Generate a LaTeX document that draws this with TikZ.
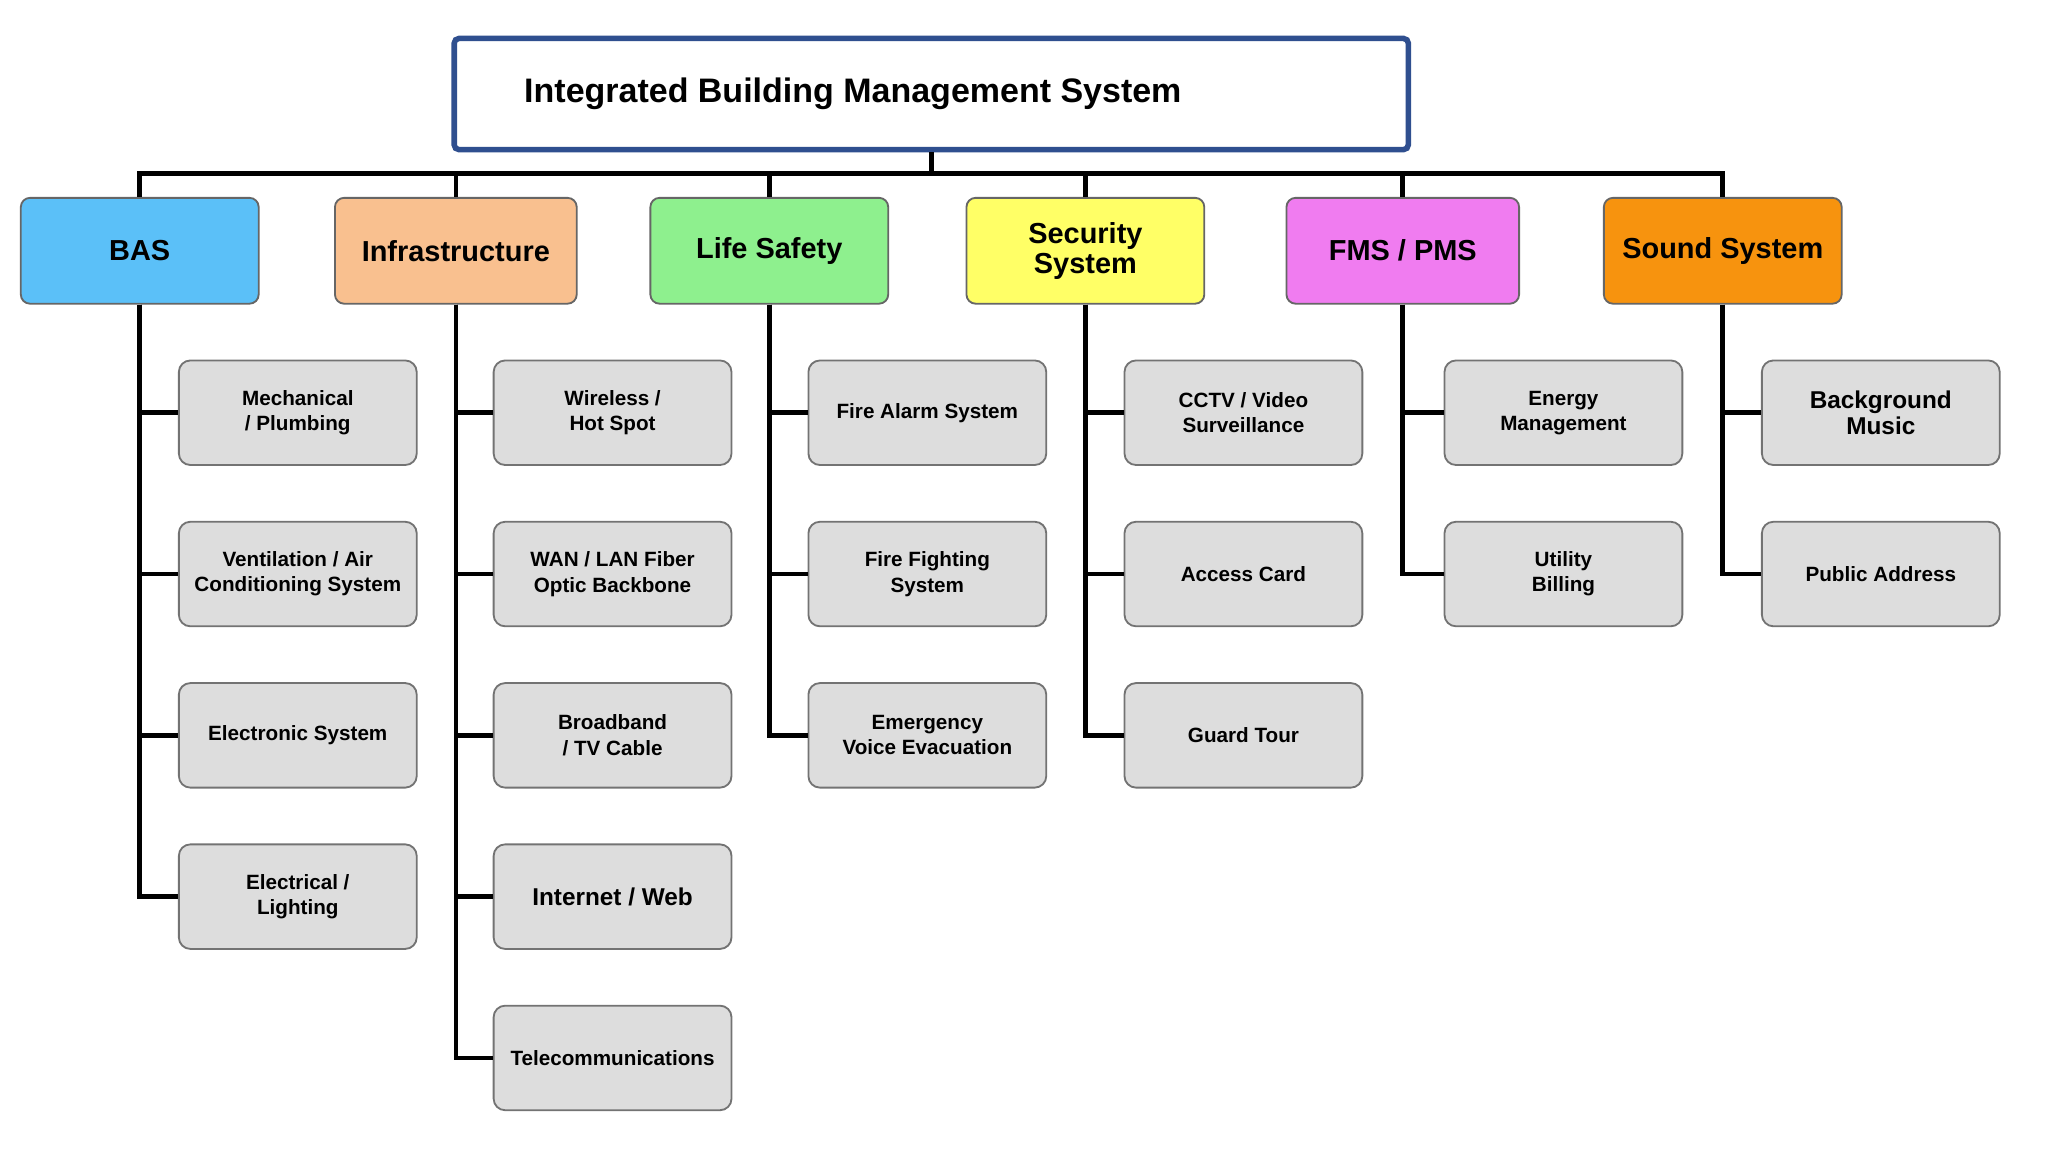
\documentclass[tikz,border=0pt]{standalone}
\usepackage{fontspec}
\setmainfont{Liberation Sans}
\usetikzlibrary{positioning}
\definecolor{basblue}{HTML}{5BC0F8}
\definecolor{infpeach}{HTML}{F9C08F}
\definecolor{lifegreen}{HTML}{8EF08E}
\definecolor{secyellow}{HTML}{FFFF66}
\definecolor{fmspink}{HTML}{F07CF0}
\definecolor{soundorange}{HTML}{F7930E}
\definecolor{subgray}{HTML}{DDDDDD}
\definecolor{titleblue}{HTML}{2F4F8F}
\newcommand{\bigtxt}[1]{{\fontsize{5.3}{6}\selectfont #1}}
\tikzstyle{title} = [rectangle, rounded corners=1pt, minimum width=7.3cm, minimum height=0.85cm, draw=titleblue, line width=1.2pt, fill=white, font=\bfseries\fontsize{7.4}{9}\selectfont]
\tikzstyle{category} = [rectangle, rounded corners=2pt, minimum width=1.82cm, minimum height=0.81cm, align=center, draw=black!60, font=\bfseries\fontsize{6.3}{6.6}\selectfont]
\tikzstyle{sub} = [rectangle, rounded corners=2.5pt, minimum width=1.82cm, minimum height=0.8cm, align=center, draw=black!55, fill=subgray, font=\bfseries\fontsize{4.5}{5.5}\selectfont]
\tikzstyle{line} = [line width=1pt]

\begin{document}
\begin{tikzpicture}[x=0.01cm, y=-0.01cm]
    \useasboundingbox (0,0) rectangle (1568,882);

    \node (ibms) [title] at (713,72) {\hspace*{-1.2cm}Integrated Building Management System};

    \node (bas) [category, fill=basblue] at (107,192) {BAS};
    \node (infra) [category, fill=infpeach, minimum width=1.85cm] at (349,192) {Infrastructure};
    \node (life) [category, fill=lifegreen] at (589,192) {Life Safety};
    \node (security) [category, fill=secyellow] at (831,192) {Security\\System};
    \node (fms) [category, fill=fmspink, minimum width=1.78cm] at (1074,192) {FMS / PMS};
    \node (sound) [category, fill=soundorange] at (1319,192) {Sound System};

    % bus
    \coordinate (busmid) at (713,133);
    \draw [line] (ibms.south) -- (busmid);
    \foreach \c in {bas,infra,life,security,fms,sound}
        \draw [line] (busmid) -| (\c.north);

    % children
    \foreach \parent/\x/\items in {
        bas/228/{Mechanical\\/ Plumbing,Ventilation / Air\\Conditioning System,Electronic System,Electrical /\\Lighting},
        infra/469/{Wireless /\\Hot Spot,WAN / LAN Fiber\\Optic Backbone,Broadband\\/ TV Cable,\bigtxt{Internet / Web},Telecommunications},
        life/710/{Fire Alarm System,Fire Fighting\\System,Emergency\\Voice Evacuation},
        security/952/{CCTV / Video\\Surveillance,Access Card,Guard Tour},
        fms/1197/{Energy\\Management,Utility\\Billing},
        sound/1440/{\bigtxt{Background}\\\bigtxt{Music},Public Address}} {
        \foreach \item [count=\i] in \items {
            \node (\parent-\i) [sub] at (\x,{316+123.5*(\i-1)}) {\item};
            \draw [line] (\parent.south) |- (\parent-\i.west);
        }
    }
\end{tikzpicture}
\end{document}
